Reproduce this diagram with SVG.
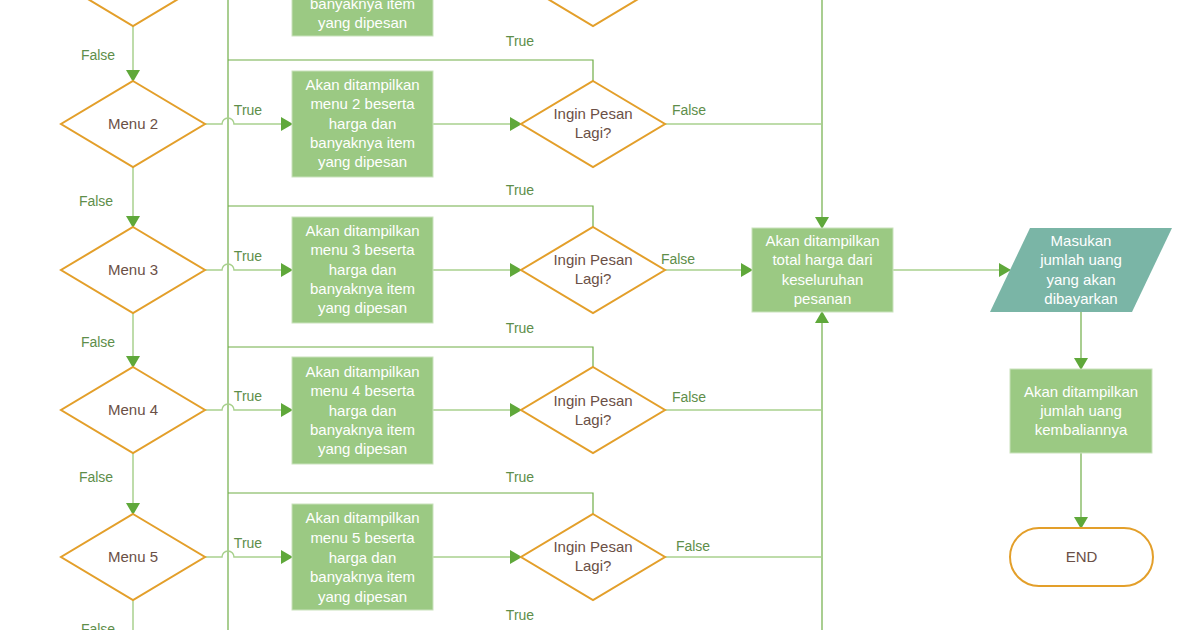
<svg xmlns="http://www.w3.org/2000/svg" width="1200" height="630" viewBox="0 0 1200 630">
<defs>
<marker id="arr" markerUnits="userSpaceOnUse" markerWidth="12" markerHeight="14" refX="11" refY="7" orient="auto">
<path d="M0,0 L12,7 L0,14 z" fill="#5FA83A"/>
</marker>
<style>
.dia{fill:#fff;stroke:#E39F2A;stroke-width:2}
.box{fill:#9BC983;stroke:#C9E2BC;stroke-width:1}
.io{fill:#7AB5A6}
.term{fill:#fff;stroke:#E39F2A;stroke-width:2}
.wt{font-family:"Liberation Sans",Arial,sans-serif;font-size:15px;fill:#fff;text-anchor:middle}
.dt{font-family:"Liberation Sans",Arial,sans-serif;font-size:15px;fill:#6B5046;text-anchor:middle}
.lb{font-family:"Liberation Sans",Arial,sans-serif;font-size:14px;fill:#5E8E4A;text-anchor:middle}
.c1{fill:none;stroke:#A9D18E;stroke-width:1.5}
.c2{fill:none;stroke:#70AD47;stroke-width:1.2}
</style>
</defs>

<g id="connectors">
<path class="c2" d="M228,0 V630"/>
<path class="c2" d="M822,0 V228" marker-end="url(#arr)"/>
<path class="c2" d="M822,630 V312" marker-end="url(#arr)"/>
<path class="c1" d="M133,26 V81" marker-end="url(#arr)"/>
<path class="c1" d="M133,167 V227" marker-end="url(#arr)"/>
<path class="c1" d="M133,313 V367" marker-end="url(#arr)"/>
<path class="c1" d="M133,453 V514" marker-end="url(#arr)"/>
<path class="c1" d="M133,600 V630"/>
<path class="c1" d="M205,124 H222 A6,6 0 0 1 234,124 H292" marker-end="url(#arr)"/>
<path class="c1" d="M205,270 H222 A6,6 0 0 1 234,270 H292" marker-end="url(#arr)"/>
<path class="c1" d="M205,410 H222 A6,6 0 0 1 234,410 H292" marker-end="url(#arr)"/>
<path class="c1" d="M205,557 H222 A6,6 0 0 1 234,557 H292" marker-end="url(#arr)"/>
<path class="c1" d="M433,124 H521" marker-end="url(#arr)"/>
<path class="c1" d="M433,270 H521" marker-end="url(#arr)"/>
<path class="c1" d="M433,410 H521" marker-end="url(#arr)"/>
<path class="c1" d="M433,557 H521" marker-end="url(#arr)"/>
<path class="c2" d="M593,0 V26"/>
<path class="c2" d="M593,81 V60 H228"/>
<path class="c2" d="M593,227 V206 H228"/>
<path class="c2" d="M593,367 V347 H228"/>
<path class="c2" d="M593,514 V493 H228"/>
<path class="c1" d="M665,124 H822"/>
<path class="c1" d="M665,270 H752" marker-end="url(#arr)"/>
<path class="c1" d="M665,410 H822"/>
<path class="c1" d="M665,557 H822"/>
<path class="c1" d="M893,270 H1010" marker-end="url(#arr)"/>
<path class="c2" d="M1081,312 V369" marker-end="url(#arr)"/>
<path class="c2" d="M1081,453 V528" marker-end="url(#arr)"/>
</g>

<g id="labels">
<text class="lb" x="98" y="60">False</text>
<text class="lb" x="96" y="206">False</text>
<text class="lb" x="98" y="347">False</text>
<text class="lb" x="96" y="482">False</text>
<text class="lb" x="98" y="634">False</text>
<text class="lb" x="248" y="115">True</text>
<text class="lb" x="248" y="261">True</text>
<text class="lb" x="248" y="401">True</text>
<text class="lb" x="248" y="548">True</text>
<text class="lb" x="520" y="46">True</text>
<text class="lb" x="520" y="195">True</text>
<text class="lb" x="520" y="333">True</text>
<text class="lb" x="520" y="482">True</text>
<text class="lb" x="520" y="620">True</text>
<text class="lb" x="689" y="115">False</text>
<text class="lb" x="678" y="264">False</text>
<text class="lb" x="689" y="402">False</text>
<text class="lb" x="693" y="551">False</text>
</g>

<g id="menu1"><polygon class="dia" points="133,-60 205,-17 133,26 61,-17"/></g>
<g id="box1"><rect class="box" x="292" y="-70" width="141" height="106"/>
<text class="wt" x="362.5" y="9">banyaknya item</text><text class="wt" x="362.5" y="28">yang dipesan</text></g>
<g id="ingin1"><polygon class="dia" points="593,-60 665,-17 593,26 521,-17"/></g>

<g id="menu2"><polygon class="dia" points="133,81 205,124 133,167 61,124"/><text class="dt" x="133" y="129">Menu 2</text></g>
<g id="box2"><rect class="box" x="292" y="71" width="141" height="106"/>
<text class="wt" x="362.5" y="90">Akan ditampilkan</text><text class="wt" x="362.5" y="109">menu 2 beserta</text><text class="wt" x="362.5" y="129">harga dan</text><text class="wt" x="362.5" y="148">banyaknya item</text><text class="wt" x="362.5" y="167">yang dipesan</text></g>
<g id="ingin2"><polygon class="dia" points="593,81 665,124 593,167 521,124"/><text class="dt" x="593" y="119">Ingin Pesan</text><text class="dt" x="593" y="138">Lagi?</text></g>

<g id="menu3"><polygon class="dia" points="133,227 205,270 133,313 61,270"/><text class="dt" x="133" y="275">Menu 3</text></g>
<g id="box3"><rect class="box" x="292" y="217" width="141" height="106"/>
<text class="wt" x="362.5" y="236">Akan ditampilkan</text><text class="wt" x="362.5" y="255">menu 3 beserta</text><text class="wt" x="362.5" y="275">harga dan</text><text class="wt" x="362.5" y="294">banyaknya item</text><text class="wt" x="362.5" y="313">yang dipesan</text></g>
<g id="ingin3"><polygon class="dia" points="593,227 665,270 593,313 521,270"/><text class="dt" x="593" y="265">Ingin Pesan</text><text class="dt" x="593" y="284">Lagi?</text></g>

<g id="menu4"><polygon class="dia" points="133,367 205,410 133,453 61,410"/><text class="dt" x="133" y="415">Menu 4</text></g>
<g id="box4"><rect class="box" x="292" y="357" width="141" height="107"/>
<text class="wt" x="362.5" y="377">Akan ditampilkan</text><text class="wt" x="362.5" y="396">menu 4 beserta</text><text class="wt" x="362.5" y="416">harga dan</text><text class="wt" x="362.5" y="435">banyaknya item</text><text class="wt" x="362.5" y="454">yang dipesan</text></g>
<g id="ingin4"><polygon class="dia" points="593,367 665,410 593,453 521,410"/><text class="dt" x="593" y="406">Ingin Pesan</text><text class="dt" x="593" y="425">Lagi?</text></g>

<g id="menu5"><polygon class="dia" points="133,514 205,557 133,600 61,557"/><text class="dt" x="133" y="562">Menu 5</text></g>
<g id="box5"><rect class="box" x="292" y="504" width="141" height="106"/>
<text class="wt" x="362.5" y="523">Akan ditampilkan</text><text class="wt" x="362.5" y="543">menu 5 beserta</text><text class="wt" x="362.5" y="563">harga dan</text><text class="wt" x="362.5" y="582">banyaknya item</text><text class="wt" x="362.5" y="602">yang dipesan</text></g>
<g id="ingin5"><polygon class="dia" points="593,514 665,557 593,600 521,557"/><text class="dt" x="593" y="552">Ingin Pesan</text><text class="dt" x="593" y="571">Lagi?</text></g>

<g id="total"><rect class="box" x="752" y="228" width="141" height="84"/>
<text class="wt" x="822.5" y="246">Akan ditampilkan</text><text class="wt" x="822.5" y="265">total harga dari</text><text class="wt" x="822.5" y="285">keseluruhan</text><text class="wt" x="822.5" y="304">pesanan</text></g>

<g id="input"><polygon class="io" points="1030,228 1172,228 1132,312 990,312"/>
<text class="wt" x="1081" y="246">Masukan</text><text class="wt" x="1081" y="265">jumlah uang</text><text class="wt" x="1081" y="285">yang akan</text><text class="wt" x="1081" y="304">dibayarkan</text></g>

<g id="kembalian"><rect class="box" x="1010" y="369" width="142" height="84"/>
<text class="wt" x="1081" y="397">Akan ditampilkan</text><text class="wt" x="1081" y="416">jumlah uang</text><text class="wt" x="1081" y="435">kembaliannya</text></g>

<g id="end"><rect class="term" x="1010" y="528" width="143" height="58" rx="29" ry="29"/>
<text class="dt" x="1081.5" y="562">END</text></g>
</svg>
